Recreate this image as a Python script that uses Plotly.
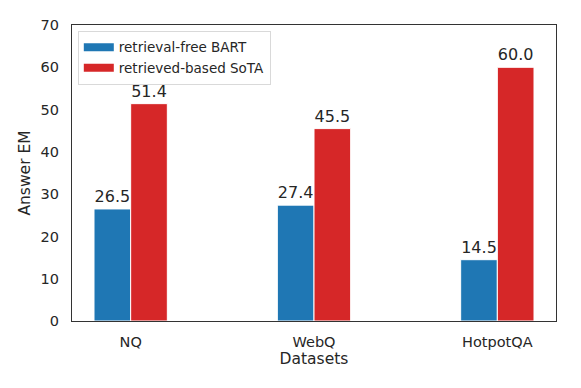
import plotly.graph_objects as go

datasets = ["NQ", "WebQ", "HotpotQA"]
bart_em = [26.5, 27.4, 14.5]
sota_em = [51.4, 45.5, 60.0]

series = [
    ("retrieval-free BART", bart_em, "#1f77b4"),
    ("retrieved-based SoTA", sota_em, "#d62728"),
]

font = "DejaVu Sans"
ink = "#262626"

fig = go.Figure()

for name, values, color in series:
    fig.add_trace(
        go.Bar(
            x=list(range(len(datasets))),
            y=values,
            name=name,
            marker_color=color,
            marker_line_color="white",
            marker_line_width=1,
            text=[f"{v:.1f}" for v in values],
            textposition="outside",
            textfont=dict(size=16, color=ink),
            cliponaxis=False,
            showlegend=False,
        )
    )

# wide legend patches like matplotlib's
for name, values, color in series:
    fig.add_trace(
        go.Scatter(
            x=[None],
            y=[None],
            mode="lines",
            line=dict(color=color, width=8),
            name=name,
        )
    )

axis_style = dict(
    showline=True,
    linecolor="#333333",
    linewidth=1.3,
    mirror=True,
    showgrid=False,
    zeroline=False,
    ticks="",
    automargin=False,
    tickfont=dict(size=14.5, color=ink),
)

fig.update_xaxes(
    range=[-0.32, 2.32],
    tickvals=list(range(len(datasets))),
    ticktext=datasets,
    title=dict(text="Datasets", font=dict(size=15.5, color=ink), standoff=1),
    ticklabelstandoff=7,
    **axis_style,
)
fig.update_yaxes(
    range=[0, 70],
    dtick=10,
    title=dict(text="Answer EM", font=dict(size=15.5, color=ink), standoff=6),
    ticklabelstandoff=9,
    **axis_style,
)

fig.update_layout(
    width=581,
    height=388,
    margin=dict(l=72, r=25, t=25, b=67),
    barmode="group",
    bargap=0.6,
    bargroupgap=0,
    plot_bgcolor="white",
    paper_bgcolor="white",
    font=dict(family=font, color=ink),
    legend=dict(
        x=0.012,
        y=0.98,
        xanchor="left",
        yanchor="top",
        bgcolor="white",
        bordercolor="#d9d9d9",
        borderwidth=1,
        font=dict(size=13.5, color=ink),
        tracegroupgap=0,
    ),
)

# drop the page's default body margin so the figure sits at 0,0
fig.write_html(
    "out.html",
    config={"displayModeBar": False},
    post_script="document.body.style.margin='0';",
)
